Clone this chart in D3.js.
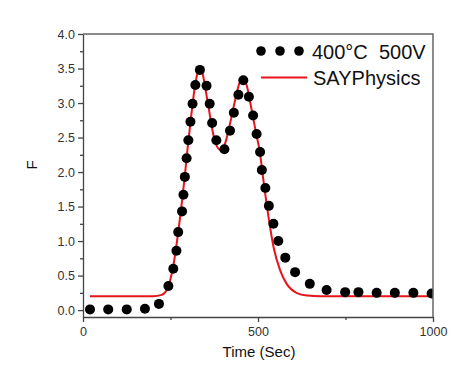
<!DOCTYPE html>
<meta charset="utf-8">
<title>F vs Time</title>
<style>
  body { margin: 0; background: #fff; }
  text { font-family: "Liberation Sans", Arial, sans-serif; }
</style>
<body>
<div id="chart"></div>
<script src="https://d3js.org/d3.v7.min.js"></script>
<script>

// measured points (Time in sec, F)
const measTime = [20, 72, 125, 177, 217, 244, 258, 267, 272, 283, 287, 291, 296, 301, 307, 313, 321, 334,
  353, 362, 369, 381, 404, 420, 431, 444, 458, 474, 486, 496, 506, 511, 521, 531, 544, 558, 578, 606,
  648, 696, 749, 787, 839, 891, 944, 996];
const measF = [0.01, 0.01, 0.01, 0.02, 0.09, 0.35, 0.60, 0.86, 1.13, 1.43, 1.67, 1.93, 2.20, 2.46, 2.73, 2.99, 3.26, 3.48,
  3.25, 2.99, 2.71, 2.46, 2.33, 2.60, 2.86, 3.12, 3.33, 3.09, 2.82, 2.55, 2.29, 2.03, 1.77, 1.51, 1.25, 1.00, 0.76, 0.55,
  0.38, 0.29, 0.26, 0.26, 0.25, 0.25, 0.25, 0.24];

// SAYPhysics fit curve
const fitTime = [20, 100, 200, 225, 240, 250, 260, 270, 280, 290, 300, 310, 320, 328, 334, 342, 350, 360, 370, 380,
  393, 405, 420, 435, 448, 458, 468, 480, 495, 505, 515, 530, 545, 563, 582, 610, 640, 680, 800, 1000];
const fitF = [0.2, 0.2, 0.2, 0.22, 0.3, 0.45, 0.7, 1.05, 1.45, 1.9, 2.4, 2.85, 3.25, 3.45, 3.5, 3.42, 3.2, 2.9, 2.6, 2.4,
  2.32, 2.4, 2.7, 3.05, 3.3, 3.35, 3.25, 2.95, 2.55, 2.3, 1.9, 1.35, 0.9, 0.58, 0.38, 0.25, 0.21, 0.2, 0.2, 0.2];

const xMajor = [0, 500, 1000];
const xMinor = [250, 750];
const yMajor = [0, 0.5, 1.0, 1.5, 2.0, 2.5, 3.0, 3.5, 4.0];
const yMinor = [0.25, 0.75, 1.25, 1.75, 2.25, 2.75, 3.25, 3.75];

const W = 474, H = 388;
const pLeft = 83, pRight = 433, pTop = 34, pBottom = 317;

const svg = d3.select("#chart").append("svg")
  .attr("width", W).attr("height", H);

const x = d3.scaleLinear().domain([0, 1000]).range([pLeft, pRight]);
const y = d3.scaleLinear().domain([-0.1, 4.0]).range([pBottom, pTop]);

svg.append("clipPath").attr("id", "clip")
  .append("rect").attr("x", pLeft).attr("y", pTop)
  .attr("width", pRight - pLeft).attr("height", pBottom - pTop);

const plot = svg.append("g").attr("clip-path", "url(#clip)");

// fit line
const line = d3.line()
  .x((d, i) => x(fitTime[i]))
  .y(d => y(d))
  .curve(d3.curveMonotoneX);

plot.append("path")
  .datum(fitF)
  .attr("d", line)
  .attr("fill", "none")
  .attr("stroke", "#e8141b")
  .attr("stroke-width", 2);

// measured dots
plot.selectAll("circle.pt")
  .data(measF)
  .join("circle")
    .attr("class", "pt")
    .attr("cx", (d, i) => x(measTime[i]))
    .attr("cy", d => y(d))
    .attr("r", 5)
    .attr("fill", "#000");

// axes
svg.append("g")
  .attr("transform", `translate(0,${pBottom})`)
  .call(d3.axisBottom(x).tickValues(xMajor).tickSize(5).tickSizeOuter(0).tickPadding(5)
    .tickFormat(d3.format("d")));
svg.append("g")
  .attr("transform", `translate(0,${pBottom})`)
  .call(d3.axisBottom(x).tickValues(xMinor).tickSize(3).tickFormat(""))
  .select(".domain").remove();

svg.append("g")
  .attr("transform", `translate(${pLeft},0)`)
  .call(d3.axisLeft(y).tickValues(yMajor).tickSize(5).tickSizeOuter(0).tickPadding(3)
    .tickFormat(d3.format(".1f")));
svg.append("g")
  .attr("transform", `translate(${pLeft},0)`)
  .call(d3.axisLeft(y).tickValues(yMinor).tickSize(3).tickFormat(""))
  .select(".domain").remove();

svg.selectAll(".tick text")
  .attr("font-size", 12.5)
  .attr("fill", "#333")
  .style("font-family", "'Liberation Sans', Arial, sans-serif");
svg.selectAll(".domain, .tick line")
  .attr("stroke", "#444")
  .attr("stroke-width", 1.3);

// top and right frame
svg.append("path")
  .attr("d", `M${pLeft},${pTop}H${pRight}V${pBottom}`)
  .attr("fill", "none")
  .attr("stroke", "#666")
  .attr("stroke-width", 1.5);

// axis titles
svg.append("text")
  .attr("x", (pLeft + pRight) / 2 + 1)
  .attr("y", 357)
  .attr("text-anchor", "middle")
  .attr("font-size", 15)
  .attr("fill", "#111")
  .text("Time (Sec)");

svg.append("text")
  .attr("transform", `translate(37,165) rotate(-90)`)
  .attr("text-anchor", "middle")
  .attr("font-size", 15)
  .attr("fill", "#111")
  .text("F");

// legend
const legend = svg.append("g");
[261, 280, 299].forEach(cx => {
  legend.append("circle").attr("cx", cx).attr("cy", 51).attr("r", 4.8).attr("fill", "#000");
});
legend.append("text")
  .attr("x", 312).attr("y", 58.5)
  .attr("font-size", 20)
  .attr("fill", "#111")
  .style("white-space", "pre")
  .text("400°C  500V");
legend.append("line")
  .attr("x1", 261).attr("x2", 307)
  .attr("y1", 77.5).attr("y2", 77.5)
  .attr("stroke", "#e8141b").attr("stroke-width", 2);
legend.append("text")
  .attr("x", 313).attr("y", 85)
  .attr("font-size", 20)
  .attr("fill", "#111")
  .text("SAYPhysics");

</script>
</body>
